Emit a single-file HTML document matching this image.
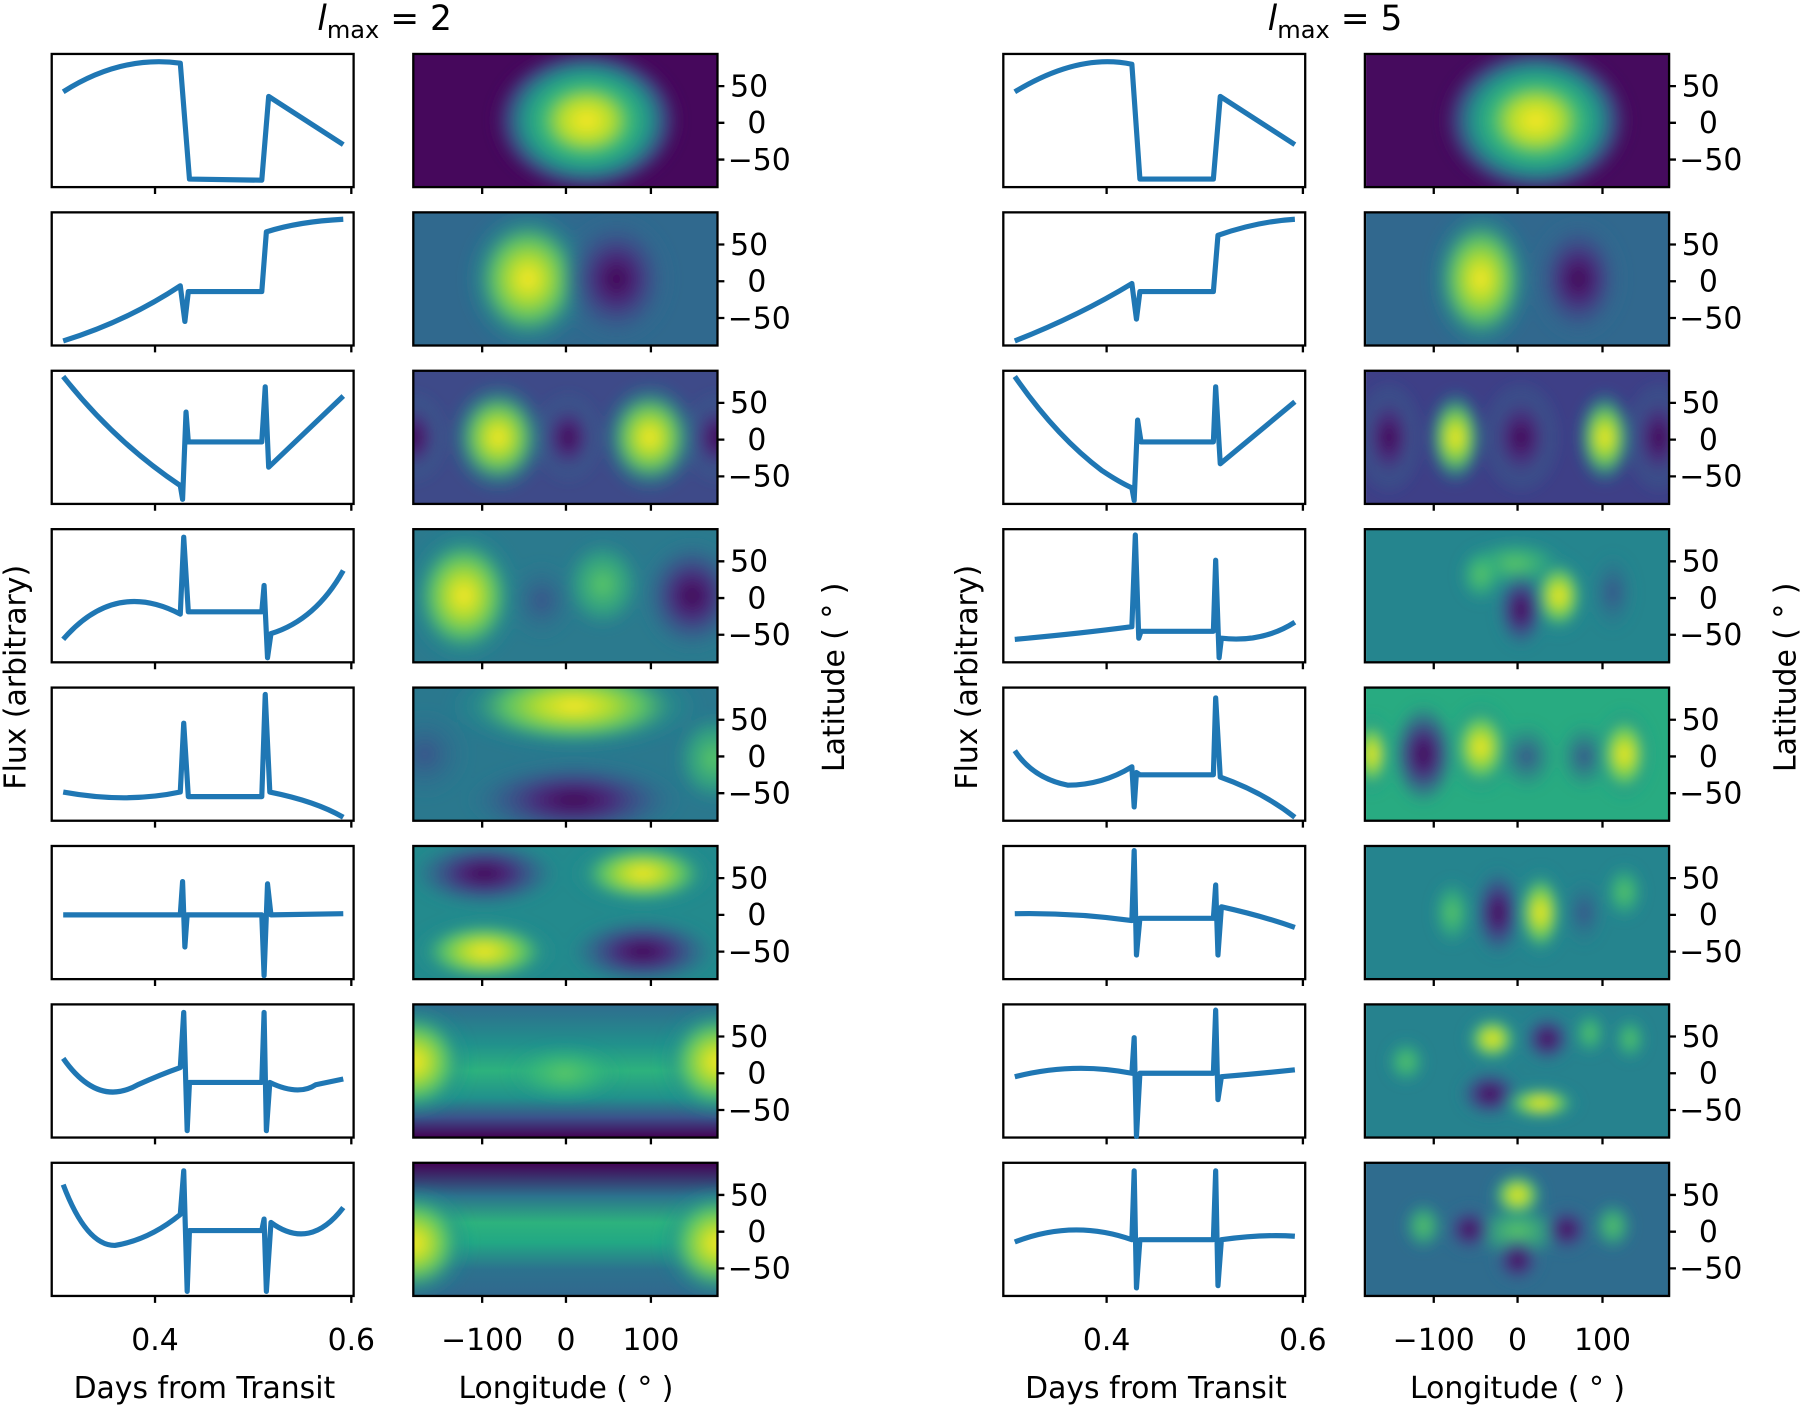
<!DOCTYPE html>
<html><head><meta charset="utf-8"><style>html,body{margin:0;padding:0;background:#fff}svg{display:block}</style></head><body>
<svg xmlns="http://www.w3.org/2000/svg" width="1800" height="1405" viewBox="0 0 1568 1224" font-family="'DejaVu Sans','Liberation Sans',sans-serif">
<defs>
<filter id="b" x="-50%" y="-50%" width="200%" height="200%"><feGaussianBlur stdDeviation="5"/></filter>
<radialGradient id="pos"><stop offset="0" stop-color="#fde725"/><stop offset=".3" stop-color="#addc30"/><stop offset=".55" stop-color="#5ec962" stop-opacity=".9"/><stop offset=".8" stop-color="#21918c" stop-opacity=".5"/><stop offset="1" stop-color="#21918c" stop-opacity="0"/></radialGradient>
<radialGradient id="neg"><stop offset="0" stop-color="#440154"/><stop offset=".35" stop-color="#472d7b"/><stop offset=".65" stop-color="#3b528b" stop-opacity=".7"/><stop offset="1" stop-color="#2c728e" stop-opacity="0"/></radialGradient>
<radialGradient id="posd"><stop offset="0" stop-color="#fde725"/><stop offset=".25" stop-color="#b5de2b"/><stop offset=".45" stop-color="#35b779"/><stop offset=".65" stop-color="#21918c"/><stop offset=".82" stop-color="#3b528b" stop-opacity=".8"/><stop offset="1" stop-color="#440154" stop-opacity="0"/></radialGradient>
<radialGradient id="grn"><stop offset="0" stop-color="#5ec962"/><stop offset=".6" stop-color="#35b779" stop-opacity=".6"/><stop offset="1" stop-color="#21918c" stop-opacity="0"/></radialGradient>
<radialGradient id="blu"><stop offset="0" stop-color="#3b528b"/><stop offset="1" stop-color="#2c728e" stop-opacity="0"/></radialGradient>
<linearGradient id="v7" x1="0" y1="0" x2="0" y2="1"><stop offset="0" stop-color="#2f6c8e"/><stop offset=".3" stop-color="#21918c"/><stop offset=".5" stop-color="#2db27d"/><stop offset=".7" stop-color="#21918c"/><stop offset=".85" stop-color="#3b528b"/><stop offset="1" stop-color="#440154"/></linearGradient>
<linearGradient id="v8" x1="0" y1="0" x2="0" y2="1"><stop offset="0" stop-color="#440154"/><stop offset=".25" stop-color="#2c728e"/><stop offset=".45" stop-color="#2db27d"/><stop offset=".6" stop-color="#22a884"/><stop offset=".8" stop-color="#2c728e"/><stop offset="1" stop-color="#31688e"/></linearGradient>
</defs>

<text x="335" y="26" font-size="30" text-anchor="middle"><tspan font-style="italic">l</tspan><tspan font-size="21" dy="7">max</tspan><tspan dy="-7"> = 2</tspan></text>
<text x="1163" y="26" font-size="30" text-anchor="middle"><tspan font-style="italic">l</tspan><tspan font-size="21" dy="7">max</tspan><tspan dy="-7"> = 5</tspan></text>

<svg x="360" y="47" width="265" height="116"><rect width="265" height="116" fill="#46085c"/><g filter="url(#b)"><ellipse cx="151" cy="58" rx="85" ry="66" fill="url(#posd)"/></g></svg>
<svg x="360" y="185" width="265" height="116"><rect width="265" height="116" fill="#30698e"/><g filter="url(#b)"><ellipse cx="100" cy="58" rx="55" ry="62" fill="url(#pos)"/><ellipse cx="177" cy="58" rx="50" ry="58" fill="url(#neg)"/></g></svg>
<svg x="360" y="323" width="265" height="116"><rect width="265" height="116" fill="#3e4a89"/><g filter="url(#b)"><ellipse cx="74" cy="58" rx="42" ry="48" fill="url(#pos)"/><ellipse cx="206" cy="58" rx="42" ry="48" fill="url(#pos)"/><ellipse cx="135" cy="58" rx="30" ry="40" fill="url(#neg)"/><ellipse cx="0" cy="58" rx="30" ry="40" fill="url(#neg)"/><ellipse cx="265" cy="58" rx="30" ry="40" fill="url(#neg)"/></g></svg>
<svg x="360" y="461" width="265" height="116"><rect width="265" height="116" fill="#2b7a8e"/><g filter="url(#b)"><ellipse cx="44" cy="58" rx="50" ry="60" fill="url(#pos)"/><ellipse cx="165" cy="48" rx="35" ry="40" fill="url(#grn)"/><ellipse cx="243" cy="58" rx="45" ry="50" fill="url(#neg)"/><ellipse cx="112" cy="62" rx="30" ry="35" fill="url(#blu)"/></g></svg>
<svg x="360" y="599" width="265" height="116"><rect width="265" height="116" fill="#2a788e"/><g filter="url(#b)"><ellipse cx="140" cy="16" rx="110" ry="40" fill="url(#pos)"/><ellipse cx="140" cy="98" rx="95" ry="35" fill="url(#neg)"/><ellipse cx="10" cy="58" rx="40" ry="40" fill="url(#blu)"/><ellipse cx="262" cy="62" rx="35" ry="40" fill="url(#grn)"/></g></svg>
<svg x="360" y="737" width="265" height="116"><rect width="265" height="116" fill="#238a8d"/><g filter="url(#b)"><ellipse cx="62" cy="24" rx="65" ry="30" fill="url(#neg)"/><ellipse cx="200" cy="24" rx="65" ry="30" fill="url(#pos)"/><ellipse cx="62" cy="92" rx="65" ry="30" fill="url(#pos)"/><ellipse cx="200" cy="92" rx="65" ry="30" fill="url(#neg)"/></g></svg>
<svg x="360" y="875" width="265" height="116"><rect width="265" height="116" fill="url(#v7)"/><g filter="url(#b)"><ellipse cx="0" cy="50" rx="50" ry="50" fill="url(#pos)"/><ellipse cx="265" cy="50" rx="50" ry="50" fill="url(#pos)"/><ellipse cx="132" cy="60" rx="50" ry="25" fill="url(#grn)"/></g></svg>
<svg x="360" y="1013" width="265" height="116"><rect width="265" height="116" fill="url(#v8)"/><g filter="url(#b)"><ellipse cx="0" cy="70" rx="50" ry="50" fill="url(#pos)"/><ellipse cx="265" cy="70" rx="50" ry="50" fill="url(#pos)"/></g></svg>

<svg x="1190" y="47" width="265" height="116"><rect width="265" height="116" fill="#460b5e"/><g filter="url(#b)"><ellipse cx="148" cy="58" rx="85" ry="68" fill="url(#posd)"/></g></svg>
<svg x="1190" y="185" width="265" height="116"><rect width="265" height="116" fill="#31688e"/><g filter="url(#b)"><ellipse cx="100" cy="58" rx="45" ry="62" fill="url(#pos)"/><ellipse cx="185" cy="58" rx="42" ry="55" fill="url(#neg)"/></g></svg>
<svg x="1190" y="323" width="265" height="116"><rect width="265" height="116" fill="#3e3f87"/><g filter="url(#b)"><ellipse cx="78" cy="58" rx="25" ry="42" fill="url(#pos)"/><ellipse cx="208" cy="58" rx="25" ry="42" fill="url(#pos)"/><ellipse cx="135" cy="58" rx="35" ry="50" fill="url(#neg)"/><ellipse cx="20" cy="58" rx="30" ry="50" fill="url(#neg)"/><ellipse cx="255" cy="58" rx="30" ry="50" fill="url(#neg)"/></g></svg>
<svg x="1190" y="461" width="265" height="116"><rect width="265" height="116" fill="#25858e"/><g filter="url(#b)"><ellipse cx="130" cy="30" rx="45" ry="22" fill="url(#grn)"/><ellipse cx="100" cy="40" rx="20" ry="25" fill="url(#grn)"/><ellipse cx="168" cy="58" rx="25" ry="35" fill="url(#pos)"/><ellipse cx="135" cy="70" rx="22" ry="35" fill="url(#neg)"/><ellipse cx="215" cy="55" rx="20" ry="35" fill="url(#blu)"/></g></svg>
<svg x="1190" y="599" width="265" height="116"><rect width="265" height="116" fill="#28ab81"/><g filter="url(#b)"><ellipse cx="50" cy="58" rx="28" ry="45" fill="url(#neg)"/><ellipse cx="100" cy="52" rx="28" ry="40" fill="url(#pos)"/><ellipse cx="140" cy="60" rx="25" ry="30" fill="url(#blu)"/><ellipse cx="190" cy="60" rx="22" ry="30" fill="url(#blu)"/><ellipse cx="225" cy="58" rx="25" ry="40" fill="url(#pos)"/><ellipse cx="5" cy="58" rx="18" ry="35" fill="url(#pos)"/></g></svg>
<svg x="1190" y="737" width="265" height="116"><rect width="265" height="116" fill="#25848e"/><g filter="url(#b)"><ellipse cx="115" cy="58" rx="22" ry="40" fill="url(#neg)"/><ellipse cx="152" cy="58" rx="22" ry="40" fill="url(#pos)"/><ellipse cx="75" cy="58" rx="18" ry="30" fill="url(#grn)"/><ellipse cx="190" cy="58" rx="18" ry="30" fill="url(#blu)"/><ellipse cx="225" cy="40" rx="18" ry="25" fill="url(#grn)"/></g></svg>
<svg x="1190" y="875" width="265" height="116"><rect width="265" height="116" fill="#26828e"/><g filter="url(#b)"><ellipse cx="110" cy="30" rx="25" ry="22" fill="url(#pos)"/><ellipse cx="158" cy="30" rx="22" ry="22" fill="url(#neg)"/><ellipse cx="108" cy="78" rx="28" ry="22" fill="url(#neg)"/><ellipse cx="152" cy="86" rx="35" ry="16" fill="url(#pos)"/><ellipse cx="195" cy="25" rx="15" ry="20" fill="url(#grn)"/><ellipse cx="35" cy="50" rx="18" ry="20" fill="url(#grn)"/><ellipse cx="230" cy="30" rx="15" ry="20" fill="url(#grn)"/></g></svg>
<svg x="1190" y="1013" width="265" height="116"><rect width="265" height="116" fill="#2f6c8e"/><g filter="url(#b)"><ellipse cx="132" cy="60" rx="40" ry="25" fill="url(#grn)"/><ellipse cx="132" cy="28" rx="25" ry="22" fill="url(#pos)"/><ellipse cx="90" cy="58" rx="22" ry="22" fill="url(#neg)"/><ellipse cx="175" cy="58" rx="22" ry="22" fill="url(#neg)"/><ellipse cx="132" cy="85" rx="22" ry="22" fill="url(#neg)"/><ellipse cx="50" cy="55" rx="18" ry="22" fill="url(#grn)"/><ellipse cx="215" cy="55" rx="18" ry="22" fill="url(#grn)"/></g></svg>

<g stroke="#000" stroke-width="2" fill="none">
<g id="col">
<rect x="45" y="47" width="263" height="116"/><rect x="45" y="185" width="263" height="116"/><rect x="45" y="323" width="263" height="116"/><rect x="45" y="461" width="263" height="116"/><rect x="45" y="599" width="263" height="116"/><rect x="45" y="737" width="263" height="116"/><rect x="45" y="875" width="263" height="116"/><rect x="45" y="1013" width="263" height="116"/>
<rect x="360" y="47" width="265" height="116"/><rect x="360" y="185" width="265" height="116"/><rect x="360" y="323" width="265" height="116"/><rect x="360" y="461" width="265" height="116"/><rect x="360" y="599" width="265" height="116"/><rect x="360" y="737" width="265" height="116"/><rect x="360" y="875" width="265" height="116"/><rect x="360" y="1013" width="265" height="116"/>
<path d="M135,163v6M306,163v6M135,301v6M306,301v6M135,439v6M306,439v6M135,577v6M306,577v6M135,715v6M306,715v6M135,853v6M306,853v6M135,991v6M306,991v6M135,1129v6M306,1129v6"/>
<path d="M420,163v6M493,163v6M567,163v6M420,301v6M493,301v6M567,301v6M420,439v6M493,439v6M567,439v6M420,577v6M493,577v6M567,577v6M420,715v6M493,715v6M567,715v6M420,853v6M493,853v6M567,853v6M420,991v6M493,991v6M567,991v6M420,1129v6M493,1129v6M567,1129v6"/>
<path d="M625,75h6M625,107h6M625,139h6M625,213h6M625,245h6M625,277h6M625,351h6M625,383h6M625,415h6M625,489h6M625,521h6M625,553h6M625,627h6M625,659h6M625,691h6M625,765h6M625,797h6M625,829h6M625,903h6M625,935h6M625,967h6M625,1041h6M625,1073h6M625,1105h6"/>
</g>
<use href="#col" x="829"/>
</g>

<g font-size="26" fill="#000" id="lab">
<g id="yl"><text x="636" y="84">50</text><text x="651" y="116">0</text><text x="634" y="148">−50</text></g>
<use href="#yl" y="138"/><use href="#yl" y="276"/><use href="#yl" y="414"/><use href="#yl" y="552"/><use href="#yl" y="690"/><use href="#yl" y="828"/><use href="#yl" y="966"/>
<text x="135" y="1176" text-anchor="middle">0.4</text><text x="306" y="1176" text-anchor="middle">0.6</text>
<text x="420" y="1176" text-anchor="middle">−100</text><text x="493" y="1176" text-anchor="middle">0</text><text x="567" y="1176" text-anchor="middle">100</text>
<text x="178" y="1218" text-anchor="middle">Days from Transit</text>
<text x="493" y="1218" text-anchor="middle">Longitude ( ° )</text>
<text transform="translate(22,590) rotate(-90)" text-anchor="middle">Flux (arbitrary)</text>
<text transform="translate(735,590) rotate(-90)" text-anchor="middle">Latitude ( ° )</text>
</g>
<use href="#lab" x="829"/>

<g stroke="#1f77b4" stroke-width="4.5" fill="none" stroke-linejoin="round">
<path d="M55,80 Q105,48 157,55 L165,156 L228,157 L234,84 L299,126"/>
<path d="M55,297 Q110,280 157,249 L161,280 L164,254 L228,254 L232,202 Q260,193 299,191"/>
<path d="M55,328 Q100,385 157,423 L159,435 L162,359 L164,385 L228,385 L231,337 L234,407 L299,345"/>
<path d="M55,557 Q100,505 157,535 L160,468 L164,533 L228,533 L230,510 L233,573 L236,552 Q275,540 299,497"/>
<path d="M55,690 Q110,700 157,690 L160,630 L164,694 L228,694 L231,605 L235,690 Q275,698 299,712"/>
<path d="M55,797 L157,797 L159,768 L161,825 L163,797 L228,797 L230,850 L233,770 L236,797 L299,796"/>
<path d="M55,922 Q85,965 120,945 Q140,936 157,930 L160,882 L163,985 L165,943 L228,943 L230,882 L232,985 L235,943 Q260,955 275,945 L299,940"/>
<path d="M55,1032 Q75,1085 100,1085 Q130,1080 157,1058 L160,1020 L163,1125 L165,1072 L228,1072 L230,1062 L232,1125 L234,1095 L236,1065 Q270,1090 299,1052"/>
<path d="M884,80 Q940,46 986,56 L993,156 L1057,156 L1063,84 L1128,126"/>
<path d="M884,297 Q940,275 986,247 L990,278 L993,254 L1057,254 L1061,205 Q1095,193 1128,191"/>
<path d="M884,328 Q920,380 960,410 Q975,420 986,425 L988,436 L991,366 L994,385 L1057,385 L1059,337 L1063,404 L1128,350"/>
<path d="M884,557 Q940,552 986,546 L989,466 L992,556 L994,550 L1057,550 L1059,488 L1062,573 L1064,556 Q1100,560 1128,542"/>
<path d="M884,654 Q900,678 930,684 Q960,684 986,668 L988,703 L990,673 L993,675 L1057,675 L1059,608 L1063,677 Q1100,690 1128,712"/>
<path d="M884,796 Q935,795 986,802 L988,741 L990,832 L993,800 L1057,800 L1059,771 L1061,832 L1064,790 Q1100,798 1128,808"/>
<path d="M884,938 Q935,925 986,935 L988,904 L990,990 L993,935 L1057,935 L1059,880 L1061,958 L1064,938 Q1100,935 1128,932"/>
<path d="M884,1082 Q935,1062 986,1080 L988,1020 L990,1122 L993,1080 L1057,1080 L1059,1020 L1061,1120 L1064,1080 Q1100,1075 1128,1077"/>
</g>
</svg>
</body></html>
